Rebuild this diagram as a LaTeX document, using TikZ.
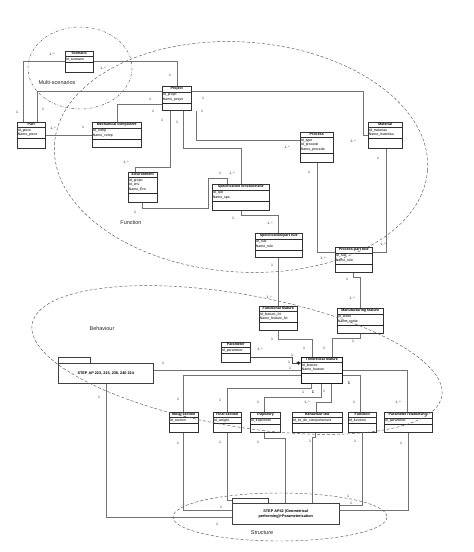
\documentclass[tikz,border=0pt]{standalone}
\usepackage{fontspec}
\setmainfont{Liberation Sans}
\usetikzlibrary{arrows.meta,calc}
\pgfdeclarelayer{back}
\pgfdeclarelayer{bg}
\pgfsetlayers{back,bg,main}
\tikzset{
  boxst/.style={draw=black!80, line width=0.5pt, fill=white, inner sep=0pt},
  titlest/.style={font=\fontsize{3.6}{4.2}\selectfont\bfseries, inner xsep=0.7pt, inner ysep=1pt},
  attrst/.style={font=\fontsize{3.5}{4.8}\selectfont, inner xsep=0.7pt, inner ysep=1.4pt, align=left},
  pkgst/.style={draw=black!75, line width=0.5pt, fill=white, inner sep=0pt, font=\fontsize{3.8}{4.6}\selectfont\bfseries, align=center},
  conn/.style={draw=black!55, line width=0.6pt},
  mult/.style={font=\fontsize{3.5}{4}\selectfont, inner sep=0pt, text=black!85},
  region/.style={draw=black!65, line width=0.45pt, dash pattern=on 3pt off 2pt},
  regionlbl/.style={font=\fontsize{5.5}{6.5}\selectfont, text=black!85, inner sep=0pt},
}
\newcommand{\umlbox}[7]{%
  \node[boxst, minimum width=#4pt, minimum height=#5pt, anchor=north west] (#1) at (#2,#3) {};
  \node[titlest, anchor=north] (#1-t) at (#1.north) {#6};
  \draw[black!80, line width=0.4pt] (#1-t.south -| #1.west) -- (#1-t.south -| #1.east);
  \node[attrst, anchor=north west] (#1-a) at (#1-t.south -| #1.west) {#7};
  \draw[black!85, line width=0.7pt] (#1-a.south -| #1.west) -- (#1-a.south -| #1.east);
}
\newcommand{\ml}[4]{\node[mult] (#1) at (#2,#3) {#4};}
\begin{document}
\begin{tikzpicture}[x=1pt,y=-1pt]
\begin{pgfonlayer}{back}
\fill[white] (0,0) rectangle (474,552);
\end{pgfonlayer}
\useasboundingbox (0,0) rectangle (474,552);

% classes
\umlbox{scenario}{65}{51}{28}{21}{Scenario}{Id\_scenario}
\umlbox{project}{162}{86}{29}{24}{Project}{Id\_projet\\Name\_projet}
\umlbox{part}{17}{122}{28}{26}{Part}{Id\_piece\\Name\_piece}
\umlbox{mech}{92}{122}{49}{25}{Mechanical component}{Id\_comp\\Name\_comp}
\umlbox{material}{368}{122}{34}{26}{Material}{Id\_materiau\\Name\_materiau}
\umlbox{process}{300}{132}{33}{30}{Process}{Id\_type\\Id\_procede\\Name\_procede}
\umlbox{env}{128}{172}{29}{30}{Environment}{Id\_projet\\Id\_env\\Name\_Env}
\umlbox{spec}{212}{184}{57}{26}{Specification fonctionnelle}{Id\_spe\\Name\_spe}
\umlbox{specrule}{255}{233}{47}{24}{Specification/part rule}{Id\_rule\\Name\_rule}
\umlbox{pprule}{335}{247}{37}{25}{Process-part rule}{Id\_rule\\Name\_rule}
\umlbox{funcfeat}{259}{306}{38}{24}{Functional feature}{Id\_feature\_fct\\Name\_feature\_fct}
\umlbox{manuf}{337}{308}{46}{25}{Manufacturing feature}{Id\_entite\\Name\_entite}
\umlbox{param}{221}{342}{29}{20}{Parameter}{Id\_parameter}
\umlbox{theo}{301}{357}{41}{26}{Theoretical feature}{Id\_feature\\Name\_feature}
\draw[black!90, line width=0.9pt] (theo.north west) rectangle (theo.south east);
\umlbox{initsec}{169}{412}{29}{20}{Initial section}{Id\_section}
\umlbox{finsec}{213}{412}{28}{20}{Final section}{Id\_weight}
\umlbox{traj}{250}{412}{30}{20}{Trajectory}{Id\_trajectoire}
\umlbox{blaw}{292}{412}{50}{20}{Behaviour law}{Id\_loi\_de\_comportement}
\umlbox{func}{348}{412}{28}{20}{Function}{Id\_function}
\umlbox{prel}{384}{412}{48}{20}{Parameter relationship}{Id\_parameter}

% packages
\node[pkgst, minimum width=95pt, minimum height=20pt, anchor=north west] (stepA) at (58,363) {STEP AP 223, 215, 238, 240 224};
\node[pkgst, minimum width=32pt, minimum height=6pt, anchor=south west] (stepAtab) at (58,363) {};
\node[pkgst, minimum width=107pt, minimum height=21pt, anchor=north west] (stepB) at (232,503) {STEP AP42 (Geometrical\\performing)+Parameterisation};
\node[pkgst, minimum width=36pt, minimum height=5pt, anchor=south west] (stepBtab) at (232,503) {};

% connectors
\begin{pgfonlayer}{bg}
\draw[conn] (scenario.west) -| ([xshift=6pt]part.north west);
\draw[conn] (scenario.east) -| ([xshift=15pt]project.north west);
\draw[conn] ([xshift=20pt]part.north west) |- ([yshift=-5pt]project.north west);
\draw[conn] ([yshift=-5pt]project.north east) -| ([xshift=-5pt]material.west) -- (material.west);
\draw[conn] ([xshift=25pt]mech.north west) |- ([yshift=-18pt]project.north west);
\draw[conn] (part.east) -- (part.east -| mech.west);
\draw[conn] ([xshift=8pt]project.south west) |- ([xshift=7pt,yshift=5pt]env.north west) -- ([xshift=7pt]env.north west);
\draw[conn] ([xshift=21pt]project.south west) |- ([xshift=29pt,yshift=36pt]spec.north west) -- ([xshift=29pt]spec.north west);
\draw[conn] ([xshift=34pt]project.south west) |- ([yshift=-8pt]process.north west);
\draw[conn] ([xshift=14pt]env.south west) |- ([xshift=-4pt,yshift=-24pt]spec.north west) |- ([xshift=15pt,yshift=6pt]spec.north west) -- ([xshift=15pt]spec.north west);
\draw[conn] ([xshift=29pt]spec.south west) |- ([xshift=23pt,yshift=18pt]specrule.north west) -- ([xshift=23pt]specrule.north west);
\draw[conn] ([xshift=23pt]specrule.south west) -- ([xshift=19pt]funcfeat.north west);
\draw[conn] ([xshift=19pt]funcfeat.south west) |- ([xshift=11pt,yshift=18pt]theo.north west) -- ([xshift=11pt]theo.north west);
\draw[conn] ([xshift=17pt]process.south west) |- ([yshift=-5pt]pprule.north west);
\draw[conn] ([xshift=18pt]material.south west) |- ([yshift=-5pt]pprule.north east);
\draw[conn] ([xshift=18pt]pprule.south west) |- ([xshift=23pt,yshift=31pt]manuf.north west) -- ([xshift=23pt]manuf.north west);
\draw[conn] ([xshift=23pt]manuf.south west) |- ([xshift=31pt,yshift=19pt]theo.north west) -- ([xshift=31pt]theo.north west);
\draw[conn] (stepA.east |- theo.west) -- (theo.west);
\draw[conn] ([yshift=-18pt]theo.north west) -| ([xshift=14pt]initsec.north west);
\draw[conn] ([xshift=10pt]theo.south west) |- ([xshift=14pt,yshift=24pt]finsec.north west) -- ([xshift=14pt]finsec.north west);
\draw[conn] ([xshift=20pt]theo.south west) |- ([xshift=14pt,yshift=15pt]traj.north west) -- ([xshift=14pt]traj.north west);
\draw[conn] ([xshift=30pt]theo.south west) |- ([xshift=24pt,yshift=10pt]blaw.north west) -- ([xshift=24pt]blaw.north west);
\draw[conn] ([yshift=-18pt]theo.north east) -| ([xshift=12pt]func.north west);
\draw[conn] ([yshift=-13pt]theo.north east) -| ([xshift=23pt]prel.north west);
\draw[conn] ([xshift=48pt]stepA.south west) |- ([yshift=-14pt]stepB.north west);
\draw[conn] ([xshift=14pt]initsec.south west) |- ([yshift=-7pt]stepB.north west);
\draw[conn] ([xshift=14pt]finsec.south west) |- (stepBtab.west);
\draw[conn] ([xshift=14pt]traj.south west) |- ([xshift=53pt,yshift=65pt]stepB.north west) -- ([xshift=53pt]stepB.north west);
\draw[conn] ([xshift=23pt]blaw.south west) |- ([xshift=80pt,yshift=66pt]stepB.north west) -- ([xshift=80pt]stepB.north west);
\draw[conn] ([xshift=14pt]func.south west) |- ([yshift=-2pt]stepB.north east);
\draw[conn] ([xshift=24pt]prel.south west) |- ([yshift=-7pt]stepB.north east);
\end{pgfonlayer}
\draw[conn, draw=black!70, -{Diamond[fill=black,length=5pt,width=3.5pt]}] ([yshift=5pt]param.south east) -| ([xshift=-9pt,yshift=-6pt]theo.north west) -- ([yshift=-6pt]theo.north west);

% regions
\draw[region, dash pattern=on 2.5pt off 1.5pt on 0.6pt off 1.5pt] (80,68) ellipse [x radius=52, y radius=41];
\draw[region, rotate around={-4:(241,157)}] (241,157) ellipse [x radius=187, y radius=115];
\draw[region, rotate around={-10:(237,360)}] (237,360) ellipse [x radius=208, y radius=66];
\draw[region] (280,517) ellipse [x radius=107, y radius=24];
\node[regionlbl] (lblms) at (57,83) {Multi-scenarios};
\node[regionlbl] (lblfn) at (131,223) {Function};
\node[regionlbl] (lblbh) at (102,329) {Behaviour};
\node[regionlbl] (lblst) at (262,533) {Structure};

% multiplicities
\ml{m1}{52}{54}{1..*}
\ml{m2}{103}{68}{1..*}
\ml{m3}{170}{75}{1}
\ml{m4}{17}{112}{1}
\ml{m5}{43}{109}{1}
\ml{m6}{150}{99}{1}
\ml{m7}{203}{98}{1}
\ml{m8}{153}{111}{1}
\ml{m9}{162}{120}{1}
\ml{m10}{177}{122}{1}
\ml{m11}{202}{111}{1}
\ml{m12}{53}{128}{1..*}
\ml{m13}{83}{127}{1}
\ml{m14}{126}{162}{1..*}
\ml{m15}{135}{212}{1}
\ml{m16}{220}{173}{1}
\ml{m17}{232}{173}{1..*}
\ml{m18}{287}{147}{1..*}
\ml{m19}{353}{141}{1..*}
\ml{m20}{309}{172}{1}
\ml{m21}{378}{158}{1}
\ml{m22}{233}{218}{1}
\ml{m23}{270}{223}{1..*}
\ml{m24}{323}{258}{1..*}
\ml{m25}{383}{244}{1..*}
\ml{m26}{347}{279}{1}
\ml{m27}{352}{298}{1..*}
\ml{m28}{272}{265}{1}
\ml{m29}{269}{297}{1..*}
\ml{m30}{272}{339}{1}
\ml{m31}{304}{348}{1}
\ml{m32}{353}{341}{1}
\ml{m33}{324}{348}{1}
\ml{m34}{260}{349}{1..*}
\ml{m35}{292}{355}{1}
\ml{m36}{289}{362}{1}
\ml{m37}{290}{368}{1}
\ml{m38}{163}{363}{1}
\ml{m39}{178}{399}{1}
\ml{m40}{220}{400}{1}
\ml{m41}{258}{402}{1}
\ml{m42}{303}{392}{1}
\node[mult, font=\fontsize{4}{4}\selectfont\bfseries] (m43) at (313,392) {1};
\ml{m44}{324}{391}{1}
\ml{m45}{307}{402}{1..*}
\ml{m46}{354}{402}{1}
\ml{m47}{398}{402}{1..*}
\node[mult, font=\fontsize{4}{4}\selectfont\bfseries] (m48) at (349,383) {1};
\ml{m49}{99}{397}{1}
\ml{m50}{178}{443}{1}
\ml{m51}{220}{442}{1}
\ml{m52}{258}{442}{1}
\ml{m53}{310}{441}{1}
\ml{m54}{355}{441}{1}
\ml{m55}{401}{443}{1}
\ml{m56}{221}{507}{1}
\ml{m57}{217}{524}{1}
\ml{m58}{348}{496}{1}
\ml{m59}{351}{503}{1}
\end{tikzpicture}
\end{document}
